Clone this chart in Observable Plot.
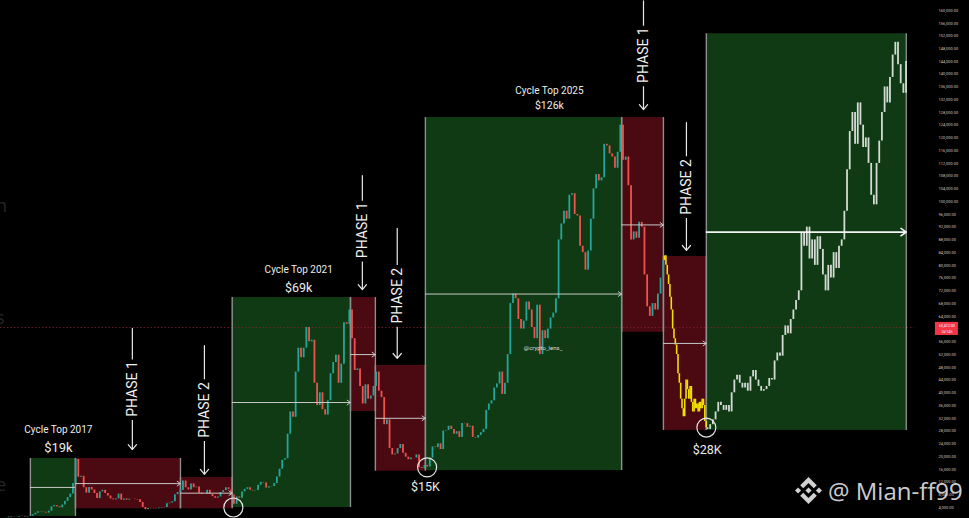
<!DOCTYPE html>
<html>
<head>
<meta charset="utf-8">
<script src="https://cdn.jsdelivr.net/npm/d3@7"></script>
<script src="https://cdn.jsdelivr.net/npm/@observablehq/plot@0.6"></script>
<style>
  html, body { margin: 0; padding: 0; background: #000; }
  #wrap { position: relative; width: 969px; height: 518px; background: #000; overflow: hidden; }
  .ghost { position: absolute; left: -4px; font: 18px "Open Sans", sans-serif; color: #262626; }
  #mark { position: absolute; left: 795px; top: 474px; display: flex; align-items: center; gap: 6px;
          font: 24px "Open Sans", sans-serif; color: rgba(232,232,232,0.9); white-space: nowrap; }
</style>
</head>
<body>
<div id="wrap">
  <div class="ghost" style="top:193px">n</div>
  <div class="ghost" style="top:305px">s</div>
  <div class="ghost" style="top:472px">e</div>
  <div id="mark">
    <svg width="27" height="27" viewBox="0 0 126.61 126.61"><path fill="rgba(232,232,232,0.9)" d="M38.73 53.2l24.59-24.58 24.6 24.6 14.3-14.31L63.32 0 24.43 38.9l14.3 14.3zM0 63.31l14.3-14.31 14.31 14.31-14.31 14.3zM38.73 73.41l24.59 24.59 24.6-24.6 14.31 14.29-38.9 38.91-38.91-38.88-.02-.02 14.32-14.29zM98 63.31l14.3-14.31 14.31 14.3-14.31 14.32zM77.83 63.3L63.32 48.78 52.59 59.51l-1.24 1.23-2.54 2.54 14.51 14.5 14.51-14.47z"/></svg>
    <span>@ Mian-ff99</span>
  </div>
</div>
<script>
// ---------------- DATA (prices in thousands of USD) ----------------
// BTC closes, 14-day candles starting 2016-11-21
const histStart = "2016-11-21";
const histClose = [
  0.74, 0.76, 0.79,
  1.02, 0.83, 0.97, 1.00, 1.19, 1.24, 1.04, 1.20, 1.25, 1.72, 2.20, 2.70, 2.60, 2.50, 2.25, 2.85, 4.20, 4.60, 4.20, 3.90, 4.80, 5.90, 7.10, 8.20, 11.5, 19.1,
  13.5, 13.8, 10.2, 8.5, 10.3, 9.5, 8.4, 6.8, 8.9, 9.4, 8.4, 7.6, 6.7, 6.4, 6.7, 8.2, 6.3, 6.7, 6.3, 6.6, 6.6, 6.5, 6.4, 5.6, 4.0, 3.3, 3.7,
  3.6, 3.5, 3.6, 3.8, 3.9, 4.0, 5.2, 5.4, 5.8, 8.0, 8.7, 9.3, 12.3, 10.2, 9.5, 11.4, 10.2, 10.4, 8.5, 8.2, 8.2, 9.4, 8.1, 7.4, 6.9, 7.3,
  8.7, 9.3, 10.2, 9.6, 7.9, 5.0, 7.3, 6.9, 8.9, 9.7, 10.2, 9.4, 9.2, 9.3, 11.0, 11.9, 11.7, 10.1, 10.5, 10.6, 11.5, 13.6, 16.0, 18.8, 19.3, 27.0,
  34.0, 32.3, 46.5, 54.0, 51.0, 54.0, 60.5, 56.0, 56.5, 43.0, 36.0, 40.0, 34.7, 33.0, 37.5, 46.0, 49.5, 51.8, 43.0, 49.0, 62.0, 61.5, 66.0, 57.0, 47.0, 47.5,
  42.0, 36.5, 42.5, 38.0, 39.0, 42.0, 46.5, 40.5, 38.5, 30.0, 31.5, 22.5, 20.5, 20.8, 22.5, 23.8, 21.0, 19.8, 19.0, 19.5, 19.5, 20.5, 16.5, 16.2, 17.2, 16.7,
  19.5, 23.0, 22.8, 24.0, 22.2, 28.0, 28.2, 29.5, 28.5, 27.0, 27.8, 26.0, 30.4, 30.3, 29.2, 29.5, 26.0, 25.8, 26.6, 27.5, 28.5, 34.5, 36.5, 37.5, 41.5, 42.8,
  46.5, 39.5, 43.0, 52.0, 68.0, 71.0, 69.5, 63.0, 60.0, 62.5, 68.5, 66.0, 60.5, 57.0, 67.5, 52.0, 59.5, 57.0, 60.0, 63.5, 65.0, 69.5, 88.0, 93.0, 97.0, 94.5,
  102.0, 102.5, 96.0, 95.5, 86.0, 84.0, 78.5, 84.5, 94.5, 104.0, 108.5, 106.5, 107.5, 118.0, 117.5, 115.0, 114.0, 110.5, 115.5, 124.0, 113.0, 114.0, 105.0, 88.0, 90.5, 88.5,
  93.5, 92.0, 77.0, 67.0, 64.0, 68.0, 66.0, 71.0, 76.0, 81.5
];
// Phase 2 projection (yellow), weekly starting 2026-05-18
const yellowStart = "2026-05-18";
const yellowClose = [83, 80, 77, 74, 70, 66, 60, 57, 55, 52, 46, 43, 38, 35, 32.5, 38, 44, 41, 38, 42, 37, 34, 38, 35, 36.5, 34, 37, 35, 38, 36, 31, 29];
// Next-cycle projection (grey), 14-day starting 2026-12-28
const projStart = "2026-12-28";
const projClose = [
  28.5, 30, 31.5, 34, 37, 36, 34.5, 36, 34, 40, 44, 45.5, 43, 41.5, 43, 40.5, 45, 47, 44, 42, 40.5, 41, 42, 44.5, 44,
  50, 52.5, 51.5, 58, 61, 58.5, 63, 66, 69, 72, 90, 86, 92, 82, 88, 80, 89, 85, 77, 72, 80, 76, 84, 79, 86,
  88, 97, 110, 122, 128, 118, 131, 124, 117, 120, 112, 102, 99, 112, 119, 128, 136, 131, 139, 146, 150, 143, 137, 134, 144
];

// Range boxes
const boxStart = ["2017-04-26","2017-12-17","2019-06-18","2020-03-14","2021-11-21","2022-03-31","2022-12-17","2025-10-06","2026-05-12","2026-12-22"];
const boxEnd   = ["2017-12-17","2019-06-18","2020-03-14","2021-11-21","2022-03-31","2022-12-17","2025-10-06","2026-05-12","2026-12-22","2029-10-30"];
const boxLow   = [1.2, 3.6, 3.6, 4.0, 34.1, 15.4, 15.6, 59.0, 28.2, 28.2];
const boxHigh  = [19.4, 19.4, 13.4, 69.9, 69.9, 48.6, 126.4, 126.4, 82.8, 152.7];
const boxKind  = ["bull","bear","bear","bull","bear","bear","bull","bear","bear","bull"];

// Phase callouts (vertical arrows)
const phaseLabel = ["PHASE 1","PHASE 2","PHASE 1","PHASE 2","PHASE 1","PHASE 2"];
const phaseDate  = ["2018-10-10","2019-10-21","2022-01-22","2022-07-23","2026-01-28","2026-09-09"];
const phaseTop   = [60.2, 54.8, 108.2, 91.6, 163.0, 124.8];
const phaseText  = [41.2, 34.6, 91.0, 70.5, 146.0, 104.6];
const phaseTip   = [22.2, 14.4, 72.4, 50.8, 128.9, 84.7];

// Cycle top labels
const topTitle = ["Cycle Top 2017","Cycle Top 2021","Cycle Top 2025"];
const topValue = ["$19k","$69k","$126k"];
const topDate  = ["2017-09-19","2021-02-24","2024-09-24"];
const topTitleY = [28.5, 78.7, 134.9];
const topValueY = [22.8, 73.0, 130.2];
const topValueSize = [13, 12.5, 10.5];

// Cycle lows (circles) and labels
const lowDate  = ["2020-03-20","2022-12-26","2026-12-22"];
const lowPrice = [4.0, 16.6, 29.1];
const lowLabel = ["", "$15K", "$28K"];
const lowLabelDate = ["2020-03-20","2022-12-17","2026-12-26"];
const lowLabelY = [0, 10.3, 22.2];

const currentPrice = 60.5;
const yTicks = d3.range(4, 161, 4);

// ---------------- BUILD TABLES ----------------
const P = s => new Date(s);
function seg(start, step, closes, kind, prev) {
  return closes.map((c, i) => {
    const o = i === 0 ? (prev ?? c) : closes[i - 1];
    return {date: d3.utcDay.offset(P(start), i * step), open: o, close: c, kind};
  });
}
const hist = seg(histStart, 14, histClose, "hist");
const yel = seg(yellowStart, 7, yellowClose, "yellow", histClose[histClose.length - 1]);
const proj = seg(projStart, 14, projClose, "proj", yellowClose[yellowClose.length - 1]);
const candles = [...hist, ...yel, ...proj];
const candleColor = d => d.kind === "yellow" ? "#f2df00" : d.kind === "proj" ? "#d4dad4"
  : (d.close >= d.open ? "#26a69a" : "#ef5350");

const boxes = boxStart.map((s, i) => ({start: P(s), end: P(boxEnd[i]), lo: boxLow[i], hi: boxHigh[i], kind: boxKind[i], i}));
const edges = boxes.flatMap(b => [{x: b.start, lo: b.lo, hi: b.hi}, {x: b.end, lo: b.lo, hi: b.hi}]);
const phases = phaseLabel.map((l, i) => ({label: l, date: P(phaseDate[i]), top: phaseTop[i], mid: phaseText[i], tip: phaseTip[i]}));
const tops = topTitle.map((t, i) => ({title: t, value: topValue[i], date: P(topDate[i]), ty: topTitleY[i], vy: topValueY[i], vs: topValueSize[i]}));
const lows = lowDate.map((d, i) => ({date: P(d), price: lowPrice[i], label: lowLabel[i], ldate: P(lowLabelDate[i]), ly: lowLabelY[i]}));

// ---------------- CHART ----------------
const chart = Plot.plot({
  width: 969, height: 518,
  marginTop: 0, marginBottom: 0, marginLeft: 0, marginRight: 55,
  style: {background: "#000", color: "#ddd", fontFamily: "Roboto, sans-serif", overflow: "visible"},
  x: {type: "utc", domain: [P("2016-11-21"), P("2029-12-12")], axis: null},
  y: {domain: [0.548, 163.139], axis: null},
  marks: [
    Plot.rect(boxes, {x1: "start", x2: "end", y1: "lo", y2: "hi",
      fill: d => d.kind === "bull" ? "#0f3a14" : "#4b0a12"}),
    Plot.ruleY([currentPrice], {stroke: "#8a2230", strokeOpacity: 0.75, strokeDasharray: "1.5,2", strokeWidth: 1}),
    Plot.ruleX(edges, {x: "x", y1: "lo", y2: "hi", stroke: "#8e8e8e", strokeWidth: 1.4}),
    Plot.ruleX(candles, {x: "date", y1: "open", y2: "close", stroke: candleColor,
      strokeWidth: d => d.kind === "yellow" ? 1.6 : 1.8}),
    Plot.ruleY(boxes.filter(b => b.i === 0), {x1: "start", x2: "end", y: d => (d.lo + d.hi) / 2, stroke: "#c8c8c8", strokeWidth: 1}),
    Plot.arrow(boxes.filter(b => b.i > 0 && b.i < 9), {x1: "start", x2: "end", y: d => (d.lo + d.hi) / 2,
      stroke: "#c8c8c8", strokeWidth: 1, headLength: 6, headAngle: 70}),
    Plot.arrow(boxes.filter(b => b.i === 9), {x1: "start", x2: "end", y: d => (d.lo + d.hi) / 2,
      stroke: "#f4f4f4", strokeWidth: 1.6, headLength: 6, headAngle: 70}),
    Plot.dot(lows, {x: "date", y: "price", r: 9.5, stroke: "#e6e6e6", strokeWidth: 1.2, fill: "none"}),
    Plot.text(lows.filter(d => d.label), {x: "ldate", y: "ly", text: "label", fill: "#ececec", fontSize: 12.5}),
    Plot.text(tops, {x: "date", y: "ty", text: "title", fill: "#ececec", fontSize: 10}),
    Plot.text(tops, {x: "date", y: "vy", text: "value", fill: "#ececec", fontSize: d => d.vs}),
    Plot.arrow(phases, {x: "date", y1: "top", y2: "tip", stroke: "#e8e8e8", strokeWidth: 1.2, headLength: 8, headAngle: 80}),
    Plot.text(phases, {x: "date", y: "mid", text: "label", rotate: -90, fill: "#f0f0f0",
      stroke: "#000", strokeWidth: 9, paintOrder: "stroke", fontSize: 14,
      fontFamily: "'Liberation Sans Narrow', 'Roboto', sans-serif"}),
    Plot.text([{date: P("2024-08-22"), price: 53.9}], {x: "date", y: "price", text: () => "@crypto_lens_", fill: "#dcdcdc", fontSize: 6}),
    // right price scale
    Plot.axisY({anchor: "right", ticks: yTicks, tickSize: 0, tickPadding: 24,
      tickFormat: d => d3.format(",.2f")(d * 1000), fontSize: 4, fill: "#c4c4c4", textAnchor: "start"}),
    Plot.rect([{x1: P("2030-03-31"), x2: P("2030-07-29"), y1: 58.0, y2: 62.1}], {x1: "x1", x2: "x2", y1: "y1", y2: "y2", fill: "#f23645"}),
    Plot.text([{d: P("2030-05-30"), y: 61.0, t: "60,412.00"}, {d: P("2030-05-30"), y: 59.2, t: "2d 14h"}],
      {x: "d", y: "y", text: "t", fill: "#fff", fontSize: 3.6})
  ]
});
document.getElementById("wrap").prepend(chart);
</script>
</body>
</html>
